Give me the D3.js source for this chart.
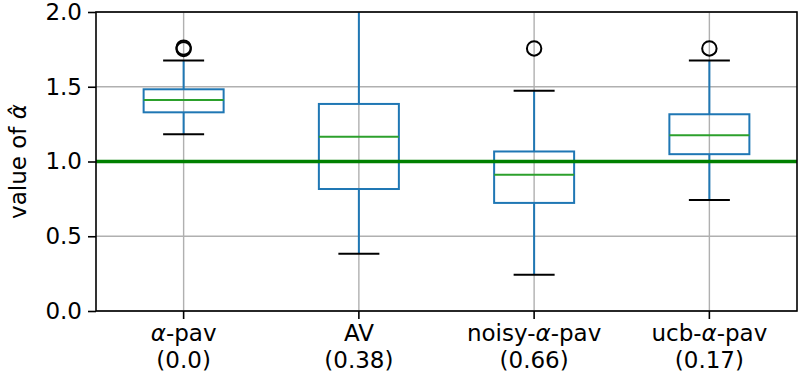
<!DOCTYPE html>
<html>
<head>
<meta charset="utf-8">
<script src="https://cdn.jsdelivr.net/npm/d3@7"></script>
<style>
  html, body { margin: 0; padding: 0; background: #fff; }
  text { font-family: "DejaVu Sans", sans-serif; }
</style>
</head>
<body>
<svg id="chart" width="800" height="381"></svg>
<script>
// ---- data ----
const categories = ["α-pav", "AV", "noisy-α-pav", "ucb-α-pav"];
const scores = ["0.0", "0.38", "0.66", "0.17"];
const whiskerLow = [1.183, 0.383, 0.243, 0.743];
const q1 = [1.329, 0.816, 0.723, 1.049];
const median = [1.411, 1.165, 0.911, 1.176];
const q3 = [1.483, 1.385, 1.067, 1.316];
const whiskerHigh = [1.676, 2.35, 1.473, 1.676];
const outliers = [[1.752, 1.762], [], [1.756], [1.756]];
const yTicks = [0.0, 0.5, 1.0, 1.5, 2.0];
const referenceValue = 1.0;

// ---- layout ----
const svg = d3.select("#chart");
const L = 96, R = 797, T = 12, B = 311;
const fs = 23;

const x = d3.scaleBand().domain(categories).range([L, R]).padding(0);
const y = d3.scaleLinear().domain([0, 2]).range([B, T]);
const cx = c => x(c) + x.bandwidth() / 2;
const boxW = 80, capW = 41;

svg.append("defs").append("clipPath").attr("id", "clip")
  .append("rect").attr("x", L).attr("y", T).attr("width", R - L).attr("height", B - T);

// grid
const grid = svg.append("g");
grid.selectAll(".gy").data(yTicks).join("line")
  .attr("x1", L).attr("x2", R).attr("y1", d => y(d)).attr("y2", d => y(d))
  .attr("stroke", "#b0b0b0").attr("stroke-width", 1.4);
grid.selectAll(".gx").data(categories).join("line")
  .attr("x1", d => cx(d)).attr("x2", d => cx(d)).attr("y1", T).attr("y2", B)
  .attr("stroke", "#b0b0b0").attr("stroke-width", 1.4);

const plot = svg.append("g").attr("clip-path", "url(#clip)");
const data = categories.map((c, i) => ({
  c, lo: whiskerLow[i], q1: q1[i], med: median[i], q3: q3[i], hi: whiskerHigh[i], out: outliers[i]
}));

const g = plot.selectAll(".box").data(data).join("g");
// whiskers
g.append("line").attr("x1", d => cx(d.c)).attr("x2", d => cx(d.c))
  .attr("y1", d => y(d.q1)).attr("y2", d => y(d.lo)).attr("stroke", "#1f77b4").attr("stroke-width", 2);
g.append("line").attr("x1", d => cx(d.c)).attr("x2", d => cx(d.c))
  .attr("y1", d => y(d.q3)).attr("y2", d => y(d.hi)).attr("stroke", "#1f77b4").attr("stroke-width", 2);
// caps
g.append("line").attr("x1", d => cx(d.c) - capW / 2).attr("x2", d => cx(d.c) + capW / 2)
  .attr("y1", d => y(d.lo)).attr("y2", d => y(d.lo)).attr("stroke", "#000").attr("stroke-width", 2);
g.append("line").attr("x1", d => cx(d.c) - capW / 2).attr("x2", d => cx(d.c) + capW / 2)
  .attr("y1", d => y(d.hi)).attr("y2", d => y(d.hi)).attr("stroke", "#000").attr("stroke-width", 2);
// box
g.append("rect").attr("x", d => cx(d.c) - boxW / 2).attr("width", boxW)
  .attr("y", d => y(d.q3)).attr("height", d => y(d.q1) - y(d.q3))
  .attr("fill", "none").attr("stroke", "#1f77b4").attr("stroke-width", 2);
// median
g.append("line").attr("x1", d => cx(d.c) - boxW / 2).attr("x2", d => cx(d.c) + boxW / 2)
  .attr("y1", d => y(d.med)).attr("y2", d => y(d.med)).attr("stroke", "#2ca02c").attr("stroke-width", 2);
// outliers
g.selectAll("circle").data(d => d.out.map(v => ({ c: d.c, v }))).join("circle")
  .attr("cx", d => cx(d.c)).attr("cy", d => y(d.v)).attr("r", 7.2)
  .attr("fill", "none").attr("stroke", "#000").attr("stroke-width", 2);

// reference line
plot.append("line").attr("x1", L).attr("x2", R)
  .attr("y1", y(referenceValue)).attr("y2", y(referenceValue))
  .attr("stroke", "#008000").attr("stroke-width", 3.5);

// frame
svg.append("rect").attr("x", L).attr("y", T).attr("width", R - L).attr("height", B - T)
  .attr("fill", "none").attr("stroke", "#000").attr("stroke-width", 1.6);

// y axis
const yAxis = svg.append("g").attr("transform", `translate(${L},0)`)
  .call(d3.axisLeft(y).tickValues(yTicks).tickFormat(d3.format(".1f")).tickSize(8).tickPadding(6));
yAxis.select(".domain").remove();
yAxis.selectAll(".tick line").attr("stroke", "#000").attr("stroke-width", 1.6);
yAxis.selectAll(".tick text").attr("font-size", fs).attr("fill", "#000")
  .attr("font-family", "DejaVu Sans");

// x axis
const xAxis = svg.append("g").attr("transform", `translate(0,${B})`)
  .call(d3.axisBottom(x).tickSize(8).tickFormat(""));
xAxis.select(".domain").remove();
xAxis.selectAll(".tick line").attr("stroke", "#000").attr("stroke-width", 1.6);

function writeCat(sel, name) {
  const parts = name.split("α");
  parts.forEach((p, i) => {
    if (i > 0) sel.append("tspan").attr("font-style", "italic").text("α");
    if (p) sel.append("tspan").text(p);
  });
}
categories.forEach((c, i) => {
  const t = svg.append("text").attr("x", cx(c)).attr("y", B + 30)
    .attr("text-anchor", "middle").attr("font-size", fs).attr("fill", "#000");
  writeCat(t, c);
  svg.append("text").attr("x", cx(c)).attr("y", B + 57)
    .attr("text-anchor", "middle").attr("font-size", fs).attr("fill", "#000")
    .text("(" + scores[i] + ")");
});

// y label
const yl = svg.append("text").attr("transform", `translate(26,${(T + B) / 2}) rotate(-90)`)
  .attr("text-anchor", "middle").attr("font-size", fs).attr("fill", "#000");
yl.append("tspan").text("value of ");
yl.append("tspan").attr("font-style", "italic").text("α\u0302");
</script>
</body>
</html>
